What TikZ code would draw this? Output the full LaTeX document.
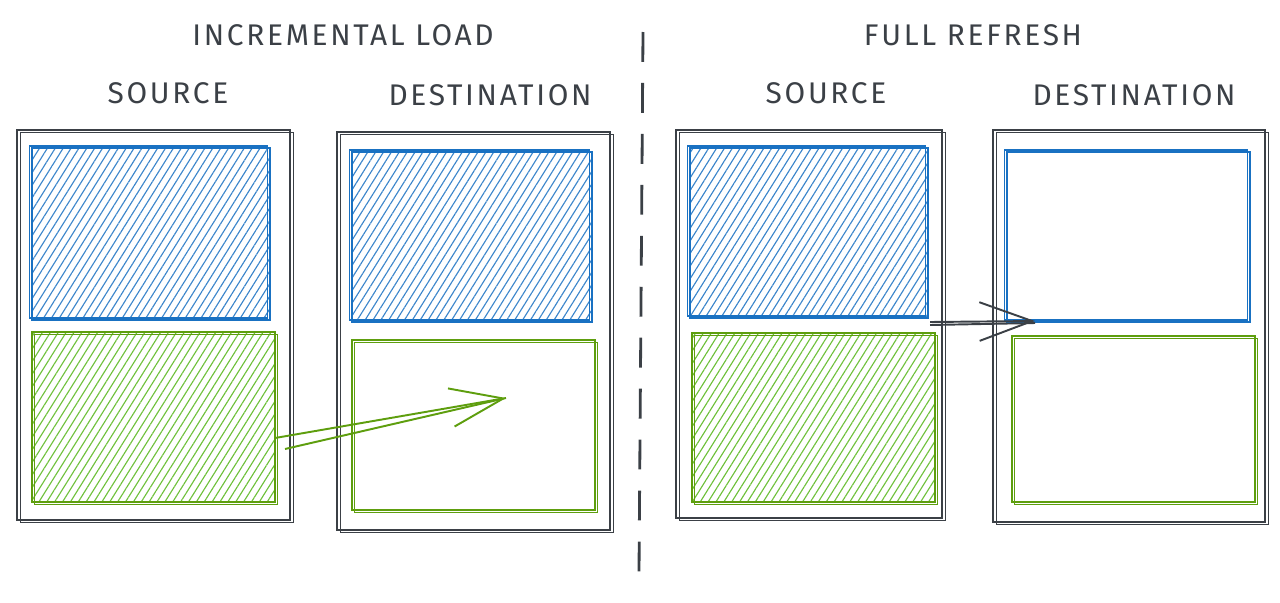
\documentclass[tikz,border=0pt]{standalone}
\usepackage{fontspec}
\setmainfont[LetterSpace=9]{Fira Sans}
\usetikzlibrary{patterns.meta,arrows.meta,fit}
\definecolor{ink}{HTML}{3B4046}
\definecolor{skyblue}{HTML}{1971C2}
\definecolor{leaf}{HTML}{5E9E0E}
\begin{document}
\begin{tikzpicture}[x=0.02cm, y=-0.02cm,
    every node/.style={inner sep=0pt, outer sep=0pt, text=ink, font=\fontsize{17}{20}\selectfont},
    frame/.style={draw=ink, line width=1.2pt,
      postaction={draw=ink, line width=0.8pt, transform canvas={shift={(2pt,-1.5pt)}}}},
    bluebox/.style={draw=skyblue, line width=1pt,
      postaction={draw=skyblue, line width=0.7pt, transform canvas={shift={(-1.4pt,1.2pt)}}}},
    greenbox/.style={draw=leaf, line width=1pt,
      postaction={draw=leaf, line width=0.7pt, transform canvas={shift={(1.4pt,-1.2pt)}}}},
    bluehatch/.style={bluebox, pattern={Lines[angle=58,distance=3.8pt,line width=0.65pt]}, pattern color=skyblue!85},
    greenhatch/.style={greenbox, pattern={Lines[angle=58,distance=3.8pt,line width=0.65pt]}, pattern color=leaf!80!green!80!white},
    push/.style={line width=1.1pt, -{Straight Barb[length=30pt,width=22pt,line width=1.1pt]}}]
  \useasboundingbox (0,0) rectangle (1280,602);
  % incremental load
  \node (title inc) at (343,35) {INCREMENTAL LOAD};
  \node (lbl src1) at (168,93) {SOURCE};
  \node (lbl dst1) at (490,95) {DESTINATION};
  \node[frame, fit={(17,130) (290,520)}] (src1) {};
  \node[bluehatch, fit={(32,148) (270,320)}] (s1blue) {};
  \node[greenhatch, fit={(32,332) (275,502)}] (s1green) {};
  \node[frame, fit={(337,132) (610,530)}] (dst1) {};
  \node[bluehatch, fit={(352,152) (592,322)}] (d1blue) {};
  \node[greenbox, fit={(352,340) (595,510)}] (d1green) {};
  \coordinate (inc tip) at (506,398);
  \draw[push, draw=leaf] ([shift={(0,-64)}]s1green.south east) -- (inc tip);
  \draw[push, draw=leaf, -] ([shift={(10,-53)}]s1green.south east) -- (inc tip);
  % divider
  \coordinate (cut top) at (643,32);
  \coordinate (cut bottom) at (639,572);
  \draw[ink, line width=1.6pt, dash pattern=on 17 off 12] (cut top) -- (cut bottom);
  % full refresh
  \node (title full) at (973,35) {FULL REFRESH};
  \node (lbl src2) at (826,93) {SOURCE};
  \node (lbl dst2) at (1134,95) {DESTINATION};
  \node[frame, fit={(676,130) (942,518)}] (src2) {};
  \node[bluehatch, fit={(690,148) (928,318)}] (s2blue) {};
  \node[greenhatch, fit={(692,333) (935,502)}] (s2green) {};
  \node[frame, fit={(993,130) (1265,522)}] (dst2) {};
  \node[bluebox, fit={(1007,152) (1250,322)}] (d2blue) {};
  \node[greenbox, fit={(1012,336) (1255,502)}] (d2green) {};
  \coordinate (full tip) at (1035,321);
  \draw[push, draw=ink] ([shift={(2,4)}]s2blue.south east) -- (full tip);
  \draw[push, draw=ink, -] ([shift={(2,7)}]s2blue.south east) -- ([shift={(0,2)}]full tip);
\end{tikzpicture}
\end{document}
